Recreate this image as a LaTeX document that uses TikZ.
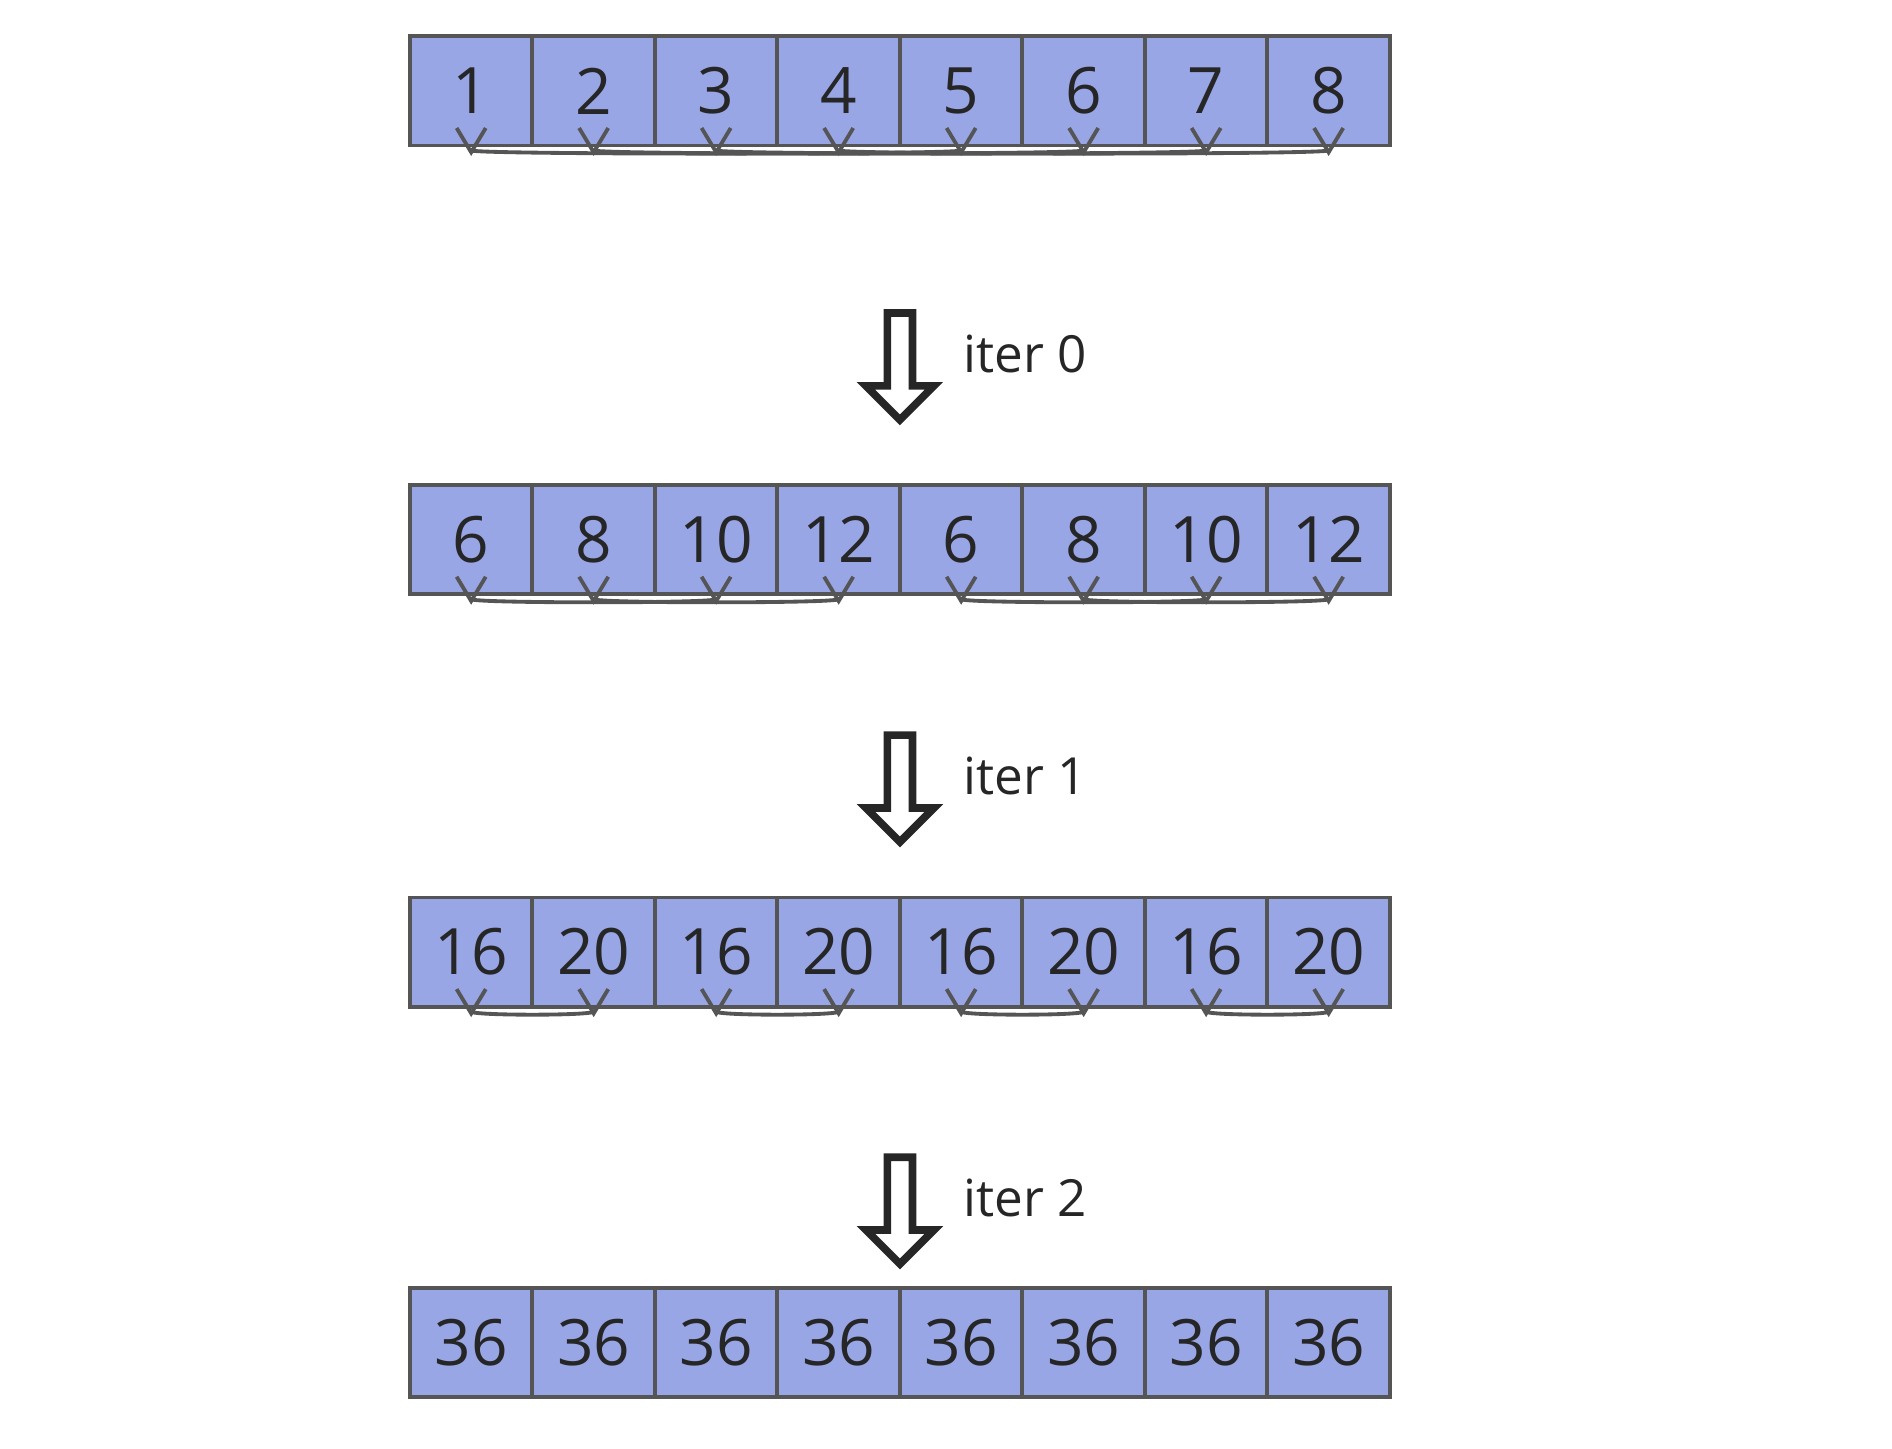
\documentclass[tikz,border=0pt]{standalone}
\usepackage{fontspec}
\setmainfont{Open Sans}
\usetikzlibrary{arrows.meta,positioning,shapes.arrows}
\definecolor{cellblue}{HTML}{98A6E6}
\definecolor{cellline}{HTML}{555555}

\begin{document}
\begin{tikzpicture}[
                    x=0.01cm, y=-0.01cm,
                    >={Straight Barb[length=2mm,width=2.4mm]},
                    cell/.style = {draw=cellline, fill=cellblue, line width=0.9pt,
                                   minimum width=1.01cm, minimum height=0.9cm,
                                   inner sep=0pt, font=\fontsize{15}{15}\selectfont, text=black!85},
                    link/.style = {<->, draw=cellline, line width=0.9pt},
                    iterarrow/.style = {single arrow, draw=black!85, line width=1.8pt,
                                   shape border rotate=270, minimum height=0.88cm,
                                   minimum width=0.56cm, single arrow head extend=0.14cm,
                                   single arrow tip angle=90, inner sep=0.05cm},
                    lab/.style  = {font=\fontsize{12}{12}\selectfont, text=black!85}
                    ]
\useasboundingbox (0,0) rectangle (1560,1194);

% the four rows of cells
\foreach \row/\y/\vals in {1/75/{1,2,3,4,5,6,7,8},
                           2/445/{6,8,10,12,6,8,10,12},
                           3/785/{16,20,16,20,16,20,16,20},
                           4/1107/{36,36,36,36,36,36,36,36}}
  \foreach \v [count=\i] in \vals
    \node[cell] (r\row c\i) at (338+101*\i-50.5,\y) {\v};

% iter 0: stride 4
\foreach \i in {1,...,4} {
  \pgfmathtruncatemacro{\j}{\i+4}
  \draw[link] ([yshift=-2pt]r1c\i.south) .. controls +(0,-1.1) and +(0,-1.1) .. ([yshift=-2pt]r1c\j.south);
}
% iter 1: stride 2
\foreach \i in {1,2,5,6} {
  \pgfmathtruncatemacro{\j}{\i+2}
  \draw[link] ([yshift=-2pt]r2c\i.south) .. controls +(0,-1.13) and +(0,-1.13) .. ([yshift=-2pt]r2c\j.south);
}
% iter 2: stride 1
\foreach \i in {1,3,5,7} {
  \pgfmathtruncatemacro{\j}{\i+1}
  \draw[link] ([yshift=-2pt]r3c\i.south) .. controls +(0,-1.13) and +(0,-1.13) .. ([yshift=-2pt]r3c\j.south);
}

% arrows between rows
\foreach \k/\y in {0/297,1/645,2/993} {
  \node[iterarrow] (a\k) at (742,\y) {};
  \node[lab, anchor=west] (t\k) at (782,292+348*\k) {iter \k};
}
\end{tikzpicture}
\end{document}
